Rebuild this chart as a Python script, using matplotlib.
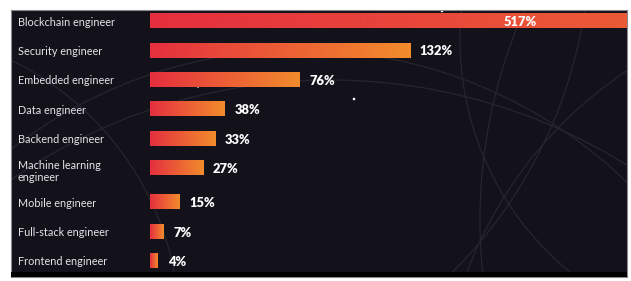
import numpy as np
import matplotlib
matplotlib.use("Agg")
import matplotlib.pyplot as plt
from matplotlib.colors import LinearSegmentedColormap
from matplotlib.patches import Circle, Rectangle

# ---- data ----
roles = ["Blockchain engineer", "Security engineer", "Embedded engineer",
         "Data engineer", "Backend engineer", "Machine learning\nengineer",
         "Mobile engineer", "Full-stack engineer", "Frontend engineer"]
growth = [517, 132, 76, 38, 33, 27, 15, 7, 4]
value_labels = ["517%", "132%", "76%", "38%", "33%", "27%", "15%", "7%", "4%"]

# ---- layout (pixels) ----
W, H = 631, 281
PX0, PX1, PY0, PY1, PYB = 11, 627, 10, 272, 277
BAR_X0 = 150
SCALE = 1.97          # px per percent
UNIT = 29.4           # px per row
FIRST = 21            # px centre of first row

def fx(px): return px / W
def fy(py): return 1 - py / H

fig = plt.figure(figsize=(W / 100, H / 100), dpi=100, facecolor="white")

# background panel
bg = fig.add_axes([fx(PX0), fy(PYB), fx(PX1) - fx(PX0), fy(PY0) - fy(PYB)])
bg.set_xlim(PX0, PX1)
bg.set_ylim(PYB, PY0)
bg.set_facecolor("#13121b")
bg.set_xticks([]); bg.set_yticks([])
for s in bg.spines.values():
    s.set_color("#8a8a8e"); s.set_linewidth(0.8)
arc_col = "#262530"
for (cx, cy, r) in [(300, 520, 470), (-120, 330, 300), (860, 420, 420),
                    (120, -60, 470), (760, 40, 300), (330, 640, 560),
                    (1000, 220, 520)]:
    bg.add_patch(Circle((cx, cy), r, fill=False, ec=arc_col, lw=0.9, zorder=1))
for (dx, dy, rr) in [(442, 11, 1.3), (354, 99, 1.3), (198, 87, 0.8)]:
    bg.add_patch(Circle((dx, dy), rr, fc="white", ec="none", zorder=2))
bg.add_patch(Rectangle((PX0, PY1), PX1 - PX0, PYB - PY1, fc="black", ec="none", zorder=3))

# main axes
ax = fig.add_axes([fx(PX0), fy(PY1), fx(PX1) - fx(PX0), fy(PY0) - fy(PY1)])
ax.patch.set_alpha(0)
ax.set_xlim((PX0 - BAR_X0) / SCALE, (PX1 - BAR_X0) / SCALE)
pos = []
y = 0.0
for r in roles:
    pos.append(y)
    y += 1 + (0.16 if "\n" in r else 0)
ax.set_ylim((PY1 - FIRST) / UNIT, -(FIRST - PY0) / UNIT)
ax.axis("off")

cmap = LinearSegmentedColormap.from_list("g", ["#e52f3f", "#f28c2c"])
grad = np.linspace(0, 1, 256).reshape(1, -1)
bh = 0.49
bars = ax.barh(pos, growth, height=bh, color="none", edgecolor="none")
for b in bars:
    x0, y0 = b.get_x(), b.get_y()
    w, h = b.get_width(), b.get_height()
    im = ax.imshow(grad, cmap=cmap, aspect="auto", extent=[x0, x0 + w, y0 + h, y0],
                   zorder=3, interpolation="bicubic")
    im.set_clip_path(ax.patch)

xmax = ax.get_xlim()[1]
for i, (p, v, lab) in enumerate(zip(pos, growth, value_labels)):
    if v > xmax:
        ax.text(xmax - 46, p, lab, ha="right", va="center_baseline", color="white",
                fontsize=9.3, fontweight="heavy", family="Lato", zorder=5)
    else:
        ax.text(v + 5, p, lab, ha="left", va="center_baseline", color="white",
                fontsize=9.3, fontweight="heavy", family="Lato", zorder=5)

for p, r in zip(pos, roles):
    off = 0.13 if "\n" in r else 0
    ax.text((18 - PX0) / (PX1 - PX0), p + off, r, transform=ax.get_yaxis_transform(),
            ha="left", va="center_baseline" if "\n" not in r else "center",
            color="#e4e4e8", fontsize=7.8, family="Lato",
            linespacing=1.15, zorder=5)

fig.savefig("out.png", dpi=100, facecolor="white")
